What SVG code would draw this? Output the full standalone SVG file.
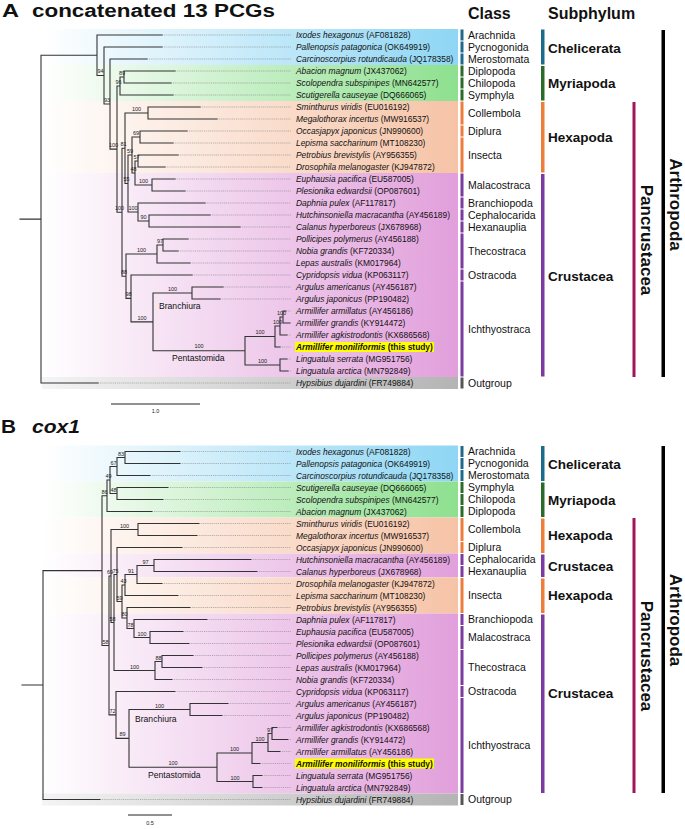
<svg xmlns="http://www.w3.org/2000/svg" width="685" height="829" viewBox="0 0 685 829">
<style>
.br{stroke:#333;stroke-width:1.1;fill:none;stroke-linecap:square}
.dl{stroke:#888;stroke-width:0.6;stroke-dasharray:1.2 0.9;fill:none}
.lf{font-family:"Liberation Sans",Arial,sans-serif;font-size:8.4px;font-style:italic;fill:#111}
.ac{font-style:normal}
.bs{font-family:"Liberation Sans",Arial,sans-serif;font-size:5.5px;fill:#222;text-anchor:middle}
.cl{font-family:"Liberation Sans",Arial,sans-serif;font-size:10.5px;fill:#111}
.sp{font-family:"Liberation Sans",Arial,sans-serif;font-size:13.5px;font-weight:bold;fill:#111}
.hd{font-family:"Liberation Sans",Arial,sans-serif;font-size:16px;font-weight:bold;fill:#111}
.cn{font-family:"Liberation Sans",Arial,sans-serif;font-size:8.6px;fill:#111}
.big{font-family:"Liberation Sans",Arial,sans-serif;font-size:17px;font-weight:bold;fill:#111}
.ttl{font-family:"Liberation Sans",Arial,sans-serif;font-size:18px;font-weight:bold;fill:#111}
.cB{fill:#1e6a8c}.cG{fill:#2a6b2a}.cO{fill:#ee7c3a}.cP{fill:#7b3aa0}.cY{fill:#555}
.hl{fill:#ffff00}
</style>
<defs>
<linearGradient id="gB" gradientUnits="userSpaceOnUse" x1="42" y1="0" x2="458" y2="0"><stop offset="0" stop-color="#fff"/><stop offset="1" stop-color="#8ed6f4"/></linearGradient>
<linearGradient id="gG" gradientUnits="userSpaceOnUse" x1="42" y1="0" x2="458" y2="0"><stop offset="0" stop-color="#fff"/><stop offset="1" stop-color="#8ee08f"/></linearGradient>
<linearGradient id="gO" gradientUnits="userSpaceOnUse" x1="42" y1="0" x2="458" y2="0"><stop offset="0" stop-color="#fff"/><stop offset="1" stop-color="#f6c3a6"/></linearGradient>
<linearGradient id="gP" gradientUnits="userSpaceOnUse" x1="42" y1="0" x2="458" y2="0"><stop offset="0" stop-color="#fff"/><stop offset="1" stop-color="#e19fdb"/></linearGradient>
<linearGradient id="gY" gradientUnits="userSpaceOnUse" x1="42" y1="0" x2="458" y2="0"><stop offset="0" stop-color="#f4f4f4"/><stop offset="1" stop-color="#b4b4b4"/></linearGradient>
</defs>
<rect width="685" height="829" fill="#fff"/>

<!-- ============ PANEL A ============ -->
<g id="A-title"><text x="2" y="17" class="ttl" textLength="17" lengthAdjust="spacingAndGlyphs">A</text><text x="32" y="17" class="ttl" textLength="243" lengthAdjust="spacingAndGlyphs">concatenated 13 PCGs</text></g>
<g id="A-headers"><text x="468" y="18.5" class="hd">Class</text><text x="548" y="18.5" class="hd">Subphylum</text></g>
<g id="A-bands">
<rect x="42" y="29" width="416" height="36" fill="url(#gB)"/>
<rect x="42" y="65" width="416" height="36" fill="url(#gG)"/>
<rect x="42" y="101" width="416" height="72" fill="url(#gO)"/>
<rect x="42" y="173" width="416" height="204" fill="url(#gP)"/>
<rect x="42" y="377" width="416" height="12" fill="url(#gY)"/>
</g>
<g id="A-connectors" class="br">
<path d="M20 219.1H41M41 55.3V383M41 55.3H97M41 383H98
M97 35V75.5M97 35H162M97 75.5H104
M104 47V104M104 47H162M104 104H110
M110 59V149.1M110 59H147M110 149.1H117
M117 86V212.2M117 86H120M117 212.2H122
M120 77V95M120 77H124M120 95H173
M124 71V83M124 71H175M124 83H171
M122 148.3V276.2M122 148.3H125M122 276.2H126
M125 113V183.5M125 113H148M125 183.5H128
M148 107V119M148 107H200M148 119H217
M128 155V212M128 155H132M128 212H138
M132 137V173M132 137H140M132 173H135
M140 131V143M140 131H187M140 143H173
M135 161V185M135 161H138M135 185H152
M138 155V167M138 155H178M138 167H165
M152 179V191M152 179H175M152 191H185
M138 203V221M138 203H205M138 221H149
M149 215V227M149 215H210M149 227H240
M126 254V298.4M126 254H157M126 298.4H131
M157 245V263M157 245H163M157 263H190
M163 239V251M163 239H188M163 251H178
M131 275V321.9M131 275H192M131 321.9H153
M153 293V350.8M153 293H192M153 350.8H245
M192 287V299M192 287H223M192 299H220
M245 336.5V365M245 336.5H275M245 365H280
M275 326V347M275 326H280M275 347H280
M280 317V335M280 317H283M280 335H287
M283 311V323M283 311H286M283 323H290
M280 359V371M280 359H287M280 371H288"/>
</g>
<g id="A-dashes" class="dl">
<path d="M162 35H291M162 47H291M147 59H291M175 71H291M171 83H291M173 95H291M200 107H291M217 119H291M187 131H291M173 143H291M178 155H291M165 167H291M175 179H291M185 191H291M205 203H291M210 215H291M240 227H291M188 239H291M178 251H291M190 263H291M192 275H291M223 287H291M220 299H291M286 311H291M290 323H291M287 335H291M280 347H291M287 359H291M288 371H291M98 383H291"/>
</g>
<g id="A-support">
<text class="bs" x="100.5" y="73">94</text><text class="bs" x="107" y="101.5">93</text><text class="bs" x="113.5" y="146.5">100</text>
<text class="bs" x="118.5" y="83.5">96</text><text class="bs" x="122" y="74.5">89</text><text class="bs" x="119.5" y="209.5">100</text>
<text class="bs" x="123.5" y="145.5">81</text><text class="bs" x="136.5" y="110.5">100</text><text class="bs" x="126.5" y="181">55</text>
<text class="bs" x="130" y="152.5">59</text><text class="bs" x="136" y="134.5">69</text><text class="bs" x="133.5" y="170.5">48</text>
<text class="bs" x="136.5" y="158.5">57</text><text class="bs" x="143.5" y="182.5">100</text><text class="bs" x="133" y="209.5">100</text>
<text class="bs" x="143.5" y="218.5">90</text><text class="bs" x="124" y="273.5">88</text><text class="bs" x="141.5" y="251.5">100</text>
<text class="bs" x="160" y="242.5">97</text><text class="bs" x="128.5" y="296">98</text><text class="bs" x="142" y="319.5">100</text>
<text class="bs" x="172.5" y="290.5">100</text><text class="bs" x="199" y="348">100</text><text class="bs" x="260" y="334">100</text>
<text class="bs" x="277.5" y="323.5">100</text><text class="bs" x="281.5" y="314.5">100</text><text class="bs" x="262.5" y="362.5">100</text>
</g>
<g id="A-clades"><text class="cn" x="159" y="309">Branchiura</text><text class="cn" x="172" y="361">Pentastomida</text></g>
<rect x="295" y="342" width="139" height="10" class="hl"/>
<g id="A-leaves">
<g id="A-l00"><text class="lf" x="296" y="38">Ixodes hexagonus <tspan class="ac">(AF081828)</tspan></text></g>
<g id="A-l01"><text class="lf" x="296" y="50">Pallenopsis patagonica <tspan class="ac">(OK649919)</tspan></text></g>
<g id="A-l02"><text class="lf" x="296" y="62">Carcinoscorpius rotundicauda <tspan class="ac">(JQ178358)</tspan></text></g>
<g id="A-l03"><text class="lf" x="296" y="74">Abacion magnum <tspan class="ac">(JX437062)</tspan></text></g>
<g id="A-l04"><text class="lf" x="296" y="86">Scolopendra subspinipes <tspan class="ac">(MN642577)</tspan></text></g>
<g id="A-l05"><text class="lf" x="296" y="98">Scutigerella causeyae <tspan class="ac">(DQ666065)</tspan></text></g>
<g id="A-l06"><text class="lf" x="296" y="110">Sminthurus viridis <tspan class="ac">(EU016192)</tspan></text></g>
<g id="A-l07"><text class="lf" x="296" y="122">Megalothorax incertus <tspan class="ac">(MW916537)</tspan></text></g>
<g id="A-l08"><text class="lf" x="296" y="134">Occasjapyx japonicus <tspan class="ac">(JN990600)</tspan></text></g>
<g id="A-l09"><text class="lf" x="296" y="146">Lepisma saccharinum <tspan class="ac">(MT108230)</tspan></text></g>
<g id="A-l10"><text class="lf" x="296" y="158">Petrobius brevistylis <tspan class="ac">(AY956355)</tspan></text></g>
<g id="A-l11"><text class="lf" x="296" y="170">Drosophila melanogaster <tspan class="ac">(KJ947872)</tspan></text></g>
<g id="A-l12"><text class="lf" x="296" y="182">Euphausia pacifica <tspan class="ac">(EU587005)</tspan></text></g>
<g id="A-l13"><text class="lf" x="296" y="194">Plesionika edwardsii <tspan class="ac">(OP087601)</tspan></text></g>
<g id="A-l14"><text class="lf" x="296" y="206">Daphnia pulex <tspan class="ac">(AF117817)</tspan></text></g>
<g id="A-l15"><text class="lf" x="296" y="218">Hutchinsoniella macracantha <tspan class="ac">(AY456189)</tspan></text></g>
<g id="A-l16"><text class="lf" x="296" y="230">Calanus hyperboreus <tspan class="ac">(JX678968)</tspan></text></g>
<g id="A-l17"><text class="lf" x="296" y="242">Pollicipes polymerus <tspan class="ac">(AY456188)</tspan></text></g>
<g id="A-l18"><text class="lf" x="296" y="254">Nobia grandis <tspan class="ac">(KF720334)</tspan></text></g>
<g id="A-l19"><text class="lf" x="296" y="266">Lepas australis <tspan class="ac">(KM017964)</tspan></text></g>
<g id="A-l20"><text class="lf" x="296" y="278">Cypridopsis vidua <tspan class="ac">(KP063117)</tspan></text></g>
<g id="A-l21"><text class="lf" x="296" y="290">Argulus americanus <tspan class="ac">(AY456187)</tspan></text></g>
<g id="A-l22"><text class="lf" x="296" y="302">Argulus japonicus <tspan class="ac">(PP190482)</tspan></text></g>
<g id="A-l23"><text class="lf" x="296" y="314">Armillifer armillatus <tspan class="ac">(AY456186)</tspan></text></g>
<g id="A-l24"><text class="lf" x="296" y="326">Armillifer grandis <tspan class="ac">(KY914472)</tspan></text></g>
<g id="A-l25"><text class="lf" x="296" y="338">Armillifer agkistrodontis <tspan class="ac">(KX686568)</tspan></text></g>
<g id="A-l26"><text class="lf" x="296" y="350" font-weight="bold">Armillifer moniliformis <tspan class="ac">(this study)</tspan></text></g>
<g id="A-l27"><text class="lf" x="296" y="362">Linguatula serrata <tspan class="ac">(MG951756)</tspan></text></g>
<g id="A-l28"><text class="lf" x="296" y="374">Linguatula arctica <tspan class="ac">(MN792849)</tspan></text></g>
<g id="A-l29"><text class="lf" x="296" y="386">Hypsibius dujardini <tspan class="ac">(FR749884)</tspan></text></g>
</g>
<g id="A-classbars">
<rect class="cB" x="460.5" y="29.5" width="3" height="11"/><rect class="cB" x="460.5" y="41.5" width="3" height="11"/><rect class="cB" x="460.5" y="53.5" width="3" height="11"/>
<rect class="cG" x="460.5" y="65.5" width="3" height="11"/><rect class="cG" x="460.5" y="77.5" width="3" height="11"/><rect class="cG" x="460.5" y="89.5" width="3" height="11"/>
<rect class="cO" x="460.5" y="101.5" width="3" height="23"/><rect class="cO" x="460.5" y="125.5" width="3" height="11"/><rect class="cO" x="460.5" y="137.5" width="3" height="35"/>
<rect class="cP" x="460.5" y="173.5" width="3" height="23"/><rect class="cP" x="460.5" y="197.5" width="3" height="11"/><rect class="cP" x="460.5" y="209.5" width="3" height="11"/><rect class="cP" x="460.5" y="221.5" width="3" height="11"/><rect class="cP" x="460.5" y="233.5" width="3" height="35"/><rect class="cP" x="460.5" y="269.5" width="3" height="11"/><rect class="cP" x="460.5" y="281.5" width="3" height="95"/>
<rect class="cY" x="460.5" y="377.5" width="3" height="11"/>
</g>
<g id="A-classes">
<text class="cl" x="468" y="38.7">Arachnida</text><text class="cl" x="468" y="50.7">Pycnogonida</text><text class="cl" x="468" y="62.7">Merostomata</text>
<text class="cl" x="468" y="74.7">Diplopoda</text><text class="cl" x="468" y="86.7">Chilopoda</text><text class="cl" x="468" y="98.7">Symphyla</text>
<text class="cl" x="468" y="116.7">Collembola</text><text class="cl" x="468" y="134.7">Diplura</text><text class="cl" x="468" y="158.7">Insecta</text>
<text class="cl" x="468" y="188.7">Malacostraca</text><text class="cl" x="468" y="206.7">Branchiopoda</text><text class="cl" x="468" y="218.7">Cephalocarida</text>
<text class="cl" x="468" y="230.7">Hexanauplia</text><text class="cl" x="468" y="254.7">Thecostraca</text><text class="cl" x="468" y="278.7">Ostracoda</text>
<text class="cl" x="468" y="332.7">Ichthyostraca</text><text class="cl" x="468" y="386.7">Outgroup</text>
</g>
<g id="A-subphyla">
<rect class="cB" x="541" y="29.5" width="3.5" height="35"/><rect class="cG" x="541" y="66" width="3.5" height="34.5"/>
<rect class="cO" x="541" y="102" width="3.5" height="70.5"/><rect class="cP" x="541" y="174" width="3.5" height="202.5"/>
<text class="sp" x="548" y="52.5">Chelicerata</text><text class="sp" x="548" y="87.5">Myriapoda</text>
<text class="sp" x="548" y="142">Hexapoda</text><text class="sp" x="548" y="281">Crustacea</text>
</g>
<g id="A-pancrustacea"><rect x="632.5" y="102" width="3" height="275" fill="#a3155a"/><text class="big" transform="translate(641,240) rotate(90)" text-anchor="middle">Pancrustacea</text></g>
<g id="A-arthropoda"><rect x="661.5" y="30" width="3.5" height="347" fill="#000"/><text class="big" transform="translate(670,204.5) rotate(90)" text-anchor="middle">Arthropoda</text></g>
<g id="A-scale"><path d="M111 404H200" stroke="#222" stroke-width="1"/><text class="bs" x="155.5" y="413">1.0</text></g>

<!-- ============ PANEL B ============ -->
<g id="B-title"><text x="1" y="433" class="ttl" textLength="15" lengthAdjust="spacingAndGlyphs">B</text><text x="32" y="433" class="ttl" font-style="italic" textLength="48" lengthAdjust="spacingAndGlyphs">cox1</text></g>
<g id="B-bands">
<rect x="42" y="445.5" width="416" height="36" fill="url(#gB)"/>
<rect x="42" y="481.5" width="416" height="36" fill="url(#gG)"/>
<rect x="42" y="517.5" width="416" height="36" fill="url(#gO)"/>
<rect x="42" y="553.5" width="416" height="24" fill="url(#gP)"/>
<rect x="42" y="577.5" width="416" height="36" fill="url(#gO)"/>
<rect x="42" y="613.5" width="416" height="180" fill="url(#gP)"/>
<rect x="42" y="793.5" width="416" height="12" fill="url(#gY)"/>
</g>
<g id="B-connectors" class="br">
<path d="M22 685H43M43 570.6V799.5M43 570.6H102M43 799.5H100
M102 495.8V645.5M102 495.8H107M102 645.5H109
M107 480V511.5M107 480H110M107 511.5H152
M110 466.5V493.5M110 466.5H117M110 493.5H117
M117 457.5V475.5M117 457.5H125M117 475.5H150
M125 451.5V463.5M125 451.5H180M125 463.5H180
M117 487.5V499.5M117 487.5H168M117 499.5H163
M109 576V714.9M109 576H111M109 714.9H116
M111 529.5V622.5M111 529.5H138M111 622.5H114
M138 523.5V535.5M138 523.5H199M138 535.5H197
M114 574.5V670.5M114 574.5H117M114 670.5H155
M117 547.5V601.5M117 547.5H182M117 601.5H122
M122 585V618M122 585H125M122 618H127
M125 574.5V595.5M125 574.5H137M125 595.5H178
M137 565.5V583.5M137 565.5H154M137 583.5H162
M154 559.5V571.5M154 559.5H251M154 571.5H257
M127 607.5V628.5M127 607.5H190M127 628.5H134
M134 619.5V637.5M134 619.5H207M134 637.5H150
M150 631.5V643.5M150 631.5H183M150 643.5H189
M155 661.5V679.5M155 661.5H162M155 679.5H172
M162 655.5V667.5M162 655.5H193M162 667.5H202
M116 691.5V738.4M116 691.5H175M116 738.4H129
M129 709.5V767.3M129 709.5H190M129 767.3H217
M190 703.5V715.5M190 703.5H228M190 715.5H222
M217 753V781.5M217 753H252M217 781.5H253
M252 742.5V763.5M252 742.5H268M252 763.5H260
M268 733.5V751.5M268 733.5H272M268 751.5H280
M272 727.5V739.5M272 727.5H277M272 739.5H288
M253 775.5V787.5M253 775.5H262M253 787.5H262"/>
</g>
<g id="B-dashes" class="dl">
<path d="M180 451.5H291M180 463.5H291M150 475.5H291M168 487.5H291M163 499.5H291M152 511.5H291M199 523.5H291M197 535.5H291M182 547.5H291M251 559.5H291M257 571.5H291M162 583.5H291M178 595.5H291M190 607.5H291M207 619.5H291M183 631.5H291M189 643.5H291M193 655.5H291M202 667.5H291M172 679.5H291M175 691.5H291M228 703.5H291M222 715.5H291M277 727.5H291M288 739.5H291M280 751.5H291M260 763.5H291M262 775.5H291M262 787.5H291M100 799.5H291"/>
</g>
<g id="B-support">
<text class="bs" x="121" y="455.5">83</text><text class="bs" x="113.5" y="464.5">67</text><text class="bs" x="108.5" y="478">49</text>
<text class="bs" x="113.5" y="491.5">48</text><text class="bs" x="104.5" y="493.8">86</text><text class="bs" x="124.5" y="527.5">100</text>
<text class="bs" x="110" y="574">69</text><text class="bs" x="115.5" y="572.5">75</text><text class="bs" x="145.5" y="563.5">97</text>
<text class="bs" x="131" y="572.5">91</text><text class="bs" x="123.5" y="583">43</text><text class="bs" x="119.5" y="599.5">59</text>
<text class="bs" x="124.5" y="616">80</text><text class="bs" x="130.5" y="626.5">78</text><text class="bs" x="142" y="635.5">100</text>
<text class="bs" x="112.5" y="620.5">58</text><text class="bs" x="105.5" y="643.5">58</text><text class="bs" x="134.5" y="668.5">100</text>
<text class="bs" x="158.5" y="659.5">88</text><text class="bs" x="112.5" y="712.9">72</text><text class="bs" x="122.5" y="736.4">89</text>
<text class="bs" x="159.5" y="707.5">100</text><text class="bs" x="173" y="765.3">100</text><text class="bs" x="234.5" y="751">100</text>
<text class="bs" x="235" y="779.5">100</text><text class="bs" x="260" y="740.5">100</text><text class="bs" x="270" y="731.5">97</text>
</g>
<g id="B-clades"><text class="cn" x="135" y="722">Branchiura</text><text class="cn" x="148" y="778">Pentastomida</text></g>
<rect x="295" y="758.5" width="139" height="10" class="hl"/>
<g id="B-leaves">
<g id="B-l00"><text class="lf" x="296" y="454.5">Ixodes hexagonus <tspan class="ac">(AF081828)</tspan></text></g>
<g id="B-l01"><text class="lf" x="296" y="466.5">Pallenopsis patagonica <tspan class="ac">(OK649919)</tspan></text></g>
<g id="B-l02"><text class="lf" x="296" y="478.5">Carcinoscorpius rotundicauda <tspan class="ac">(JQ178358)</tspan></text></g>
<g id="B-l03"><text class="lf" x="296" y="490.5">Scutigerella causeyae <tspan class="ac">(DQ666065)</tspan></text></g>
<g id="B-l04"><text class="lf" x="296" y="502.5">Scolopendra subspinipes <tspan class="ac">(MN642577)</tspan></text></g>
<g id="B-l05"><text class="lf" x="296" y="514.5">Abacion magnum <tspan class="ac">(JX437062)</tspan></text></g>
<g id="B-l06"><text class="lf" x="296" y="526.5">Sminthurus viridis <tspan class="ac">(EU016192)</tspan></text></g>
<g id="B-l07"><text class="lf" x="296" y="538.5">Megalothorax incertus <tspan class="ac">(MW916537)</tspan></text></g>
<g id="B-l08"><text class="lf" x="296" y="550.5">Occasjapyx japonicus <tspan class="ac">(JN990600)</tspan></text></g>
<g id="B-l09"><text class="lf" x="296" y="562.5">Hutchinsoniella macracantha <tspan class="ac">(AY456189)</tspan></text></g>
<g id="B-l10"><text class="lf" x="296" y="574.5">Calanus hyperboreus <tspan class="ac">(JX678968)</tspan></text></g>
<g id="B-l11"><text class="lf" x="296" y="586.5">Drosophila melanogaster <tspan class="ac">(KJ947872)</tspan></text></g>
<g id="B-l12"><text class="lf" x="296" y="598.5">Lepisma saccharinum <tspan class="ac">(MT108230)</tspan></text></g>
<g id="B-l13"><text class="lf" x="296" y="610.5">Petrobius brevistylis <tspan class="ac">(AY956355)</tspan></text></g>
<g id="B-l14"><text class="lf" x="296" y="622.5">Daphnia pulex <tspan class="ac">(AF117817)</tspan></text></g>
<g id="B-l15"><text class="lf" x="296" y="634.5">Euphausia pacifica <tspan class="ac">(EU587005)</tspan></text></g>
<g id="B-l16"><text class="lf" x="296" y="646.5">Plesionika edwardsii <tspan class="ac">(OP087601)</tspan></text></g>
<g id="B-l17"><text class="lf" x="296" y="658.5">Pollicipes polymerus <tspan class="ac">(AY456188)</tspan></text></g>
<g id="B-l18"><text class="lf" x="296" y="670.5">Lepas australis <tspan class="ac">(KM017964)</tspan></text></g>
<g id="B-l19"><text class="lf" x="296" y="682.5">Nobia grandis <tspan class="ac">(KF720334)</tspan></text></g>
<g id="B-l20"><text class="lf" x="296" y="694.5">Cypridopsis vidua <tspan class="ac">(KP063117)</tspan></text></g>
<g id="B-l21"><text class="lf" x="296" y="706.5">Argulus americanus <tspan class="ac">(AY456187)</tspan></text></g>
<g id="B-l22"><text class="lf" x="296" y="718.5">Argulus japonicus <tspan class="ac">(PP190482)</tspan></text></g>
<g id="B-l23"><text class="lf" x="296" y="730.5">Armillifer agkistrodontis <tspan class="ac">(KX686568)</tspan></text></g>
<g id="B-l24"><text class="lf" x="296" y="742.5">Armillifer grandis <tspan class="ac">(KY914472)</tspan></text></g>
<g id="B-l25"><text class="lf" x="296" y="754.5">Armillifer armillatus <tspan class="ac">(AY456186)</tspan></text></g>
<g id="B-l26"><text class="lf" x="296" y="766.5" font-weight="bold">Armillifer moniliformis <tspan class="ac">(this study)</tspan></text></g>
<g id="B-l27"><text class="lf" x="296" y="778.5">Linguatula serrata <tspan class="ac">(MG951756)</tspan></text></g>
<g id="B-l28"><text class="lf" x="296" y="790.5">Linguatula arctica <tspan class="ac">(MN792849)</tspan></text></g>
<g id="B-l29"><text class="lf" x="296" y="802.5">Hypsibius dujardini <tspan class="ac">(FR749884)</tspan></text></g>
</g>
<g id="B-classbars">
<rect class="cB" x="460.5" y="446" width="3" height="11"/><rect class="cB" x="460.5" y="458" width="3" height="11"/><rect class="cB" x="460.5" y="470" width="3" height="11"/>
<rect class="cG" x="460.5" y="482" width="3" height="11"/><rect class="cG" x="460.5" y="494" width="3" height="11"/><rect class="cG" x="460.5" y="506" width="3" height="11"/>
<rect class="cO" x="460.5" y="518" width="3" height="23"/><rect class="cO" x="460.5" y="542" width="3" height="11"/>
<rect class="cP" x="460.5" y="554" width="3" height="11"/><rect class="cP" x="460.5" y="566" width="3" height="11"/>
<rect class="cO" x="460.5" y="578" width="3" height="35"/>
<rect class="cP" x="460.5" y="614" width="3" height="11"/><rect class="cP" x="460.5" y="626" width="3" height="23"/><rect class="cP" x="460.5" y="650" width="3" height="35"/><rect class="cP" x="460.5" y="686" width="3" height="11"/><rect class="cP" x="460.5" y="698" width="3" height="95"/>
<rect class="cY" x="460.5" y="794" width="3" height="11"/>
</g>
<g id="B-classes">
<text class="cl" x="468" y="455.2">Arachnida</text><text class="cl" x="468" y="467.2">Pycnogonida</text><text class="cl" x="468" y="479.2">Merostomata</text>
<text class="cl" x="468" y="491.2">Symphyla</text><text class="cl" x="468" y="503.2">Chilopoda</text><text class="cl" x="468" y="515.2">Diplopoda</text>
<text class="cl" x="468" y="533.2">Collembola</text><text class="cl" x="468" y="551.2">Diplura</text><text class="cl" x="468" y="563.2">Cephalocarida</text>
<text class="cl" x="468" y="575.2">Hexanauplia</text><text class="cl" x="468" y="599.2">Insecta</text><text class="cl" x="468" y="623.2">Branchiopoda</text>
<text class="cl" x="468" y="641.2">Malacostraca</text><text class="cl" x="468" y="671.2">Thecostraca</text><text class="cl" x="468" y="695.2">Ostracoda</text>
<text class="cl" x="468" y="749.2">Ichthyostraca</text><text class="cl" x="468" y="803.2">Outgroup</text>
</g>
<g id="B-subphyla">
<rect class="cB" x="541" y="446" width="3.5" height="35"/><rect class="cG" x="541" y="482.5" width="3.5" height="34.5"/>
<rect class="cO" x="541" y="518.5" width="3.5" height="34.5"/><rect class="cP" x="541" y="554.5" width="3.5" height="22.5"/>
<rect class="cO" x="541" y="578.5" width="3.5" height="34.5"/><rect class="cP" x="541" y="614.5" width="3.5" height="178.5"/>
<text class="sp" x="548" y="468.5">Chelicerata</text><text class="sp" x="548" y="504.5">Myriapoda</text>
<text class="sp" x="548" y="539.5">Hexapoda</text><text class="sp" x="548" y="571">Crustacea</text>
<text class="sp" x="548" y="599.5">Hexapoda</text><text class="sp" x="548" y="698">Crustacea</text>
</g>
<g id="B-pancrustacea"><rect x="632.5" y="518" width="3" height="275" fill="#a3155a"/><text class="big" transform="translate(641,656) rotate(90)" text-anchor="middle">Pancrustacea</text></g>
<g id="B-arthropoda"><rect x="661.5" y="446" width="3.5" height="347" fill="#000"/><text class="big" transform="translate(670,620) rotate(90)" text-anchor="middle">Arthropoda</text></g>
<g id="B-scale"><path d="M128 815H172" stroke="#222" stroke-width="1"/><text class="bs" x="150" y="825">0.5</text></g>
</svg>
